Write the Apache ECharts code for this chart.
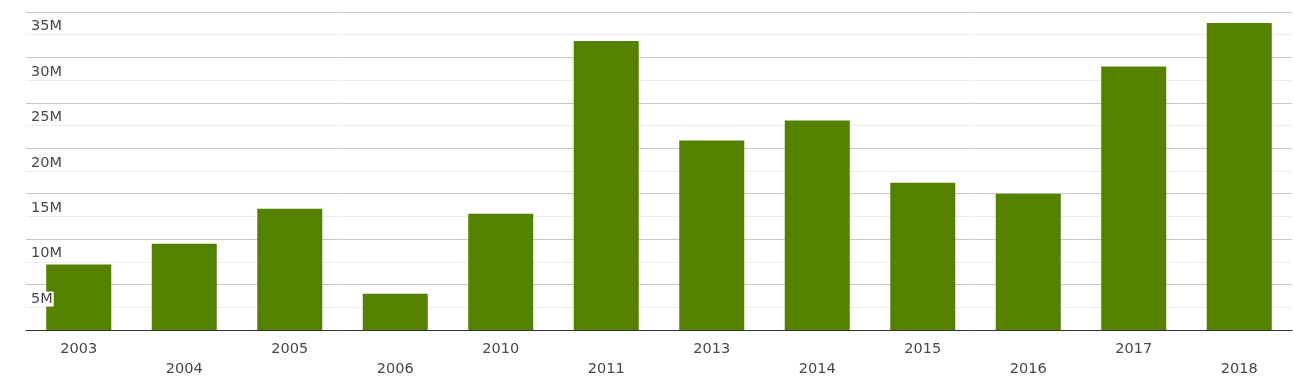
<!DOCTYPE html>
<html>
<head>
<meta charset="utf-8">
<script src="https://cdn.jsdelivr.net/npm/echarts@6/dist/echarts.min.js"></script>
<style>html,body{margin:0;padding:0;background:#fff}#c{width:1293px;height:384px}</style>
</head>
<body>
<div id="c"></div>
<script>
const categories = ['2003','2004','2005','2006','2010','2011','2013','2014','2015','2016','2017','2018'];
const values = [7.2e6, 9.5e6, 13.35e6, 4.0e6, 12.8e6, 31.8e6, 20.85e6, 23.05e6, 16.2e6, 15.0e6, 29.0e6, 33.8e6];
const yTicks = [0, 5e6, 10e6, 15e6, 20e6, 25e6, 30e6, 35e6];

const chart = echarts.init(document.getElementById('c'), null, {renderer: 'canvas'});
const font = 'DejaVu Sans';
const fs = 14.5;
const txt = '#484848';
const yMax = yTicks[yTicks.length - 1];
const yStep = yTicks[1] - yTicks[0];
chart.setOption({
  animation: false,
  grid: {left: 26, right: 1, top: 12, bottom: 54},
  xAxis: {
    type: 'category',
    data: categories,
    axisLine: {lineStyle: {color: '#333', width: 1}},
    axisTick: {show: false},
    axisLabel: {
      interval: 0,
      margin: 9,
      fontFamily: font,
      fontSize: fs,
      color: txt,
      lineHeight: 20,
      formatter: (v, i) => (i % 2 ? '\n' + v : v)
    }
  },
  yAxis: [
    {
      type: 'value', min: 0, max: yMax, interval: yStep,
      axisLine: {show: false}, axisTick: {show: false}, axisLabel: {show: false},
      splitLine: {lineStyle: {color: '#c8c8c8', width: 1}},
      minorTick: {show: false, splitNumber: 2},
      minorSplitLine: {show: true, lineStyle: {color: '#ececec', width: 1}}
    },
    {
      type: 'value', min: 0, max: yMax, interval: yStep, position: 'left', z: 10,
      axisLine: {show: false}, axisTick: {show: false}, splitLine: {show: false},
      axisLabel: {
        inside: true, margin: 4,
        verticalAlign: 'top', align: 'left',
        fontFamily: font, fontSize: fs, color: txt,
        padding: [7, 0, 0, 1],
        formatter: v => (v === 0 ? '' : '{b|' + (v / 1e6) + 'M}'),
        rich: {
          b: {fontFamily: font, fontSize: fs, color: txt, backgroundColor: '#fff', padding: [0, 1, 0, 0]}
        }
      }
    }
  ],
  series: [{
    type: 'bar',
    yAxisIndex: 0,
    data: values,
    barWidth: 65,
    itemStyle: {color: '#548200'}
  }]
});
</script>
</body>
</html>
